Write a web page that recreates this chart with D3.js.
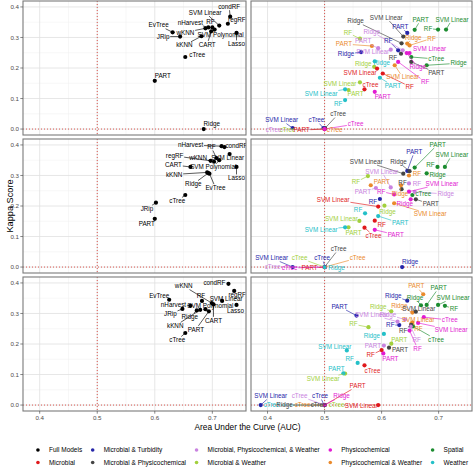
<!DOCTYPE html>
<html><head><meta charset="utf-8">
<script src="https://cdn.jsdelivr.net/npm/d3@7"></script>
<style>body{margin:0;background:#fff} text{font-family:"Liberation Sans",Arial,sans-serif}</style>
</head><body><svg id="c" width="474" height="467"></svg>
<script>
// ---------------- DATA ----------------
const groupKeys   = ["Full","Mic","MicTurb","MicPhys","MicPhysW","MicW","Phys","PhysW","Spat","W"];
const groupNames  = ["Full Models","Microbial","Microbial & Turbidity","Microbial & Physicochemical","Microbial, Physicochemical, & Weather","Microbial & Weather","Physicochemical","Physicochemical & Weather","Spatial","Weather"];
const groupColors = ["#000000","#e0191c","#2525a8","#444444","#c983e0","#a2d03c","#e21bd2","#ea8a2c","#1c8c30","#24c0c8"];
const xTicks = [0.4,0.5,0.6,0.7];
const xTickLabels = ["0.4","0.5","0.6","0.7"];
const yTicks = [0,0.1,0.2,0.3,0.4];
const yTickLabels = ["0.0","0.1","0.2","0.3","0.4"];
const xMinor = [0.45,0.55,0.65,0.75];
const yMinor = [0.05,0.15,0.25,0.35];

// full models: [model, AUC, Kappa]
const fullR1 = [
 ["condRF",0.731,0.368],["regRF",0.727,0.345],["Lasso",0.742,0.315],["SVM Linear",0.712,0.339],
 ["RF",0.700,0.333],["nHarvest",0.693,0.333],["wKNN",0.688,0.330],["SVM Polynomial",0.704,0.326],
 ["EvTree",0.631,0.317],["JRip",0.644,0.303],["kKNN",0.681,0.304],["CART",0.698,0.320],
 ["cTree",0.653,0.236],["PART",0.600,0.158],["Ridge",0.685,0.000]
];
const fullR2 = [
 ["nHarvest",0.716,0.396],["condRF",0.721,0.393],["RF",0.707,0.357],["SVM Linear",0.730,0.370],
 ["regRF",0.697,0.348],["wKNN",0.703,0.345],["SVM Polynomial",0.712,0.350],["CART",0.662,0.328],
 ["Lasso",0.742,0.328],["kKNN",0.691,0.310],["Ridge",0.693,0.308],["EvTree",0.695,0.306],
 ["cTree",0.653,0.236],["JRip",0.602,0.211],["PART",0.600,0.158]
];
const fullR3 = [
 ["condRF",0.728,0.397],["regRF",0.738,0.374],["SVM Linear",0.717,0.341],["wKNN",0.699,0.334],
 ["EvTree",0.625,0.345],["RF",0.682,0.341],["nHarvest",0.662,0.325],["SVM Polynomial",0.688,0.314],
 ["Lasso",0.742,0.328],["JRip",0.648,0.315],["Ridge",0.673,0.310],["CART",0.702,0.330],
 ["kKNN",0.679,0.312],["PART",0.694,0.307],["cTree",0.653,0.236]
];
// variable subsets: [group, model, AUC, Kappa]
const subR1 = [
 ["MicW","cTree",0.500,0.000],["PhysW","cTree",0.500,0.000],["MicPhysW","cTree",0.500,0.000],
 ["MicPhys","cTree",0.501,0.003],["MicTurb","SVM Linear",0.444,0.003],["MicTurb","cTree",0.498,0.003],
 ["Mic","PART",0.500,0.000],["Phys","cTree",0.500,0.000],
 ["Spat","PART",0.658,0.325],["Spat","SVM Linear",0.713,0.326],["Spat","RF",0.699,0.326],
 ["Spat","cTree",0.652,0.236],["Spat","Ridge",0.679,0.209],
 ["MicPhys","SVM Linear",0.638,0.303],["MicPhys","Ridge",0.635,0.281],["MicPhys","RF",0.634,0.247],["MicPhys","PART",0.652,0.220],
 ["MicTurb","PART",0.645,0.315],["MicTurb","RF",0.629,0.258],["MicTurb","Ridge",0.564,0.252],
 ["PhysW","Ridge",0.645,0.280],["PhysW","RF",0.649,0.274],["PhysW","PART",0.583,0.272],["PhysW","SVM Linear",0.623,0.209],
 ["MicW","RF",0.562,0.296],["MicW","Ridge",0.587,0.204],["MicW","SVM Linear",0.562,0.153],["MicW","PART",0.542,0.128],
 ["MicPhysW","Ridge",0.637,0.258],["MicPhysW","PART",0.594,0.265],["MicPhysW","SVM Linear",0.616,0.260],
 ["Phys","SVM Linear",0.649,0.249],["Phys","RF",0.629,0.220],["Phys","Ridge",0.644,0.249],["Phys","PART",0.588,0.122],
 ["W","Ridge",0.588,0.222],["W","PART",0.597,0.168],["W","SVM Linear",0.536,0.130],["W","RF",0.536,0.095],
 ["Mic","SVM Linear",0.592,0.198],["Mic","RF",0.602,0.182],["Mic","cTree",0.570,0.130]
];
const subR2 = [
 ["MicTurb","SVM Linear",0.444,0.000],["MicTurb","cTree",0.501,0.000],["MicPhys","cTree",0.500,0.000],
 ["PhysW","cTree",0.500,0.000],["MicW","cTree",0.500,0.000],["MicPhysW","cTree",0.500,0.000],
 ["Phys","cTree",0.500,0.000],["Mic","PART",0.500,0.000],["W","Ridge",0.500,0.000],
 ["Spat","PART",0.658,0.326],["Spat","SVM Linear",0.711,0.328],["Spat","RF",0.698,0.328],["Spat","Ridge",0.679,0.307],["Spat","cTree",0.654,0.236],
 ["MicTurb","PART",0.645,0.315],["MicTurb","RF",0.597,0.223],["MicTurb","Ridge",0.636,0.000],
 ["MicPhys","SVM Linear",0.638,0.306],["MicPhys","Ridge",0.649,0.314],["MicPhys","RF",0.635,0.255],["MicPhys","PART",0.660,0.222],
 ["PhysW","RF",0.648,0.300],["PhysW","PART",0.581,0.268],["PhysW","Ridge",0.634,0.268],["PhysW","SVM Linear",0.622,0.209],
 ["MicW","RF",0.576,0.298],["MicW","Ridge",0.605,0.201],["MicW","SVM Linear",0.561,0.151],["MicW","PART",0.542,0.130],
 ["MicPhysW","SVM Linear",0.616,0.261],["MicPhysW","PART",0.590,0.259],["MicPhysW","RF",0.648,0.274],["MicPhysW","Ridge",0.658,0.246],
 ["Phys","SVM Linear",0.648,0.247],["Phys","RF",0.622,0.238],["Phys","Ridge",0.651,0.222],["Phys","PART",0.588,0.122],
 ["W","RF",0.571,0.176],["W","PART",0.594,0.167],["W","SVM Linear",0.536,0.130],
 ["Mic","SVM Linear",0.594,0.198],["Mic","RF",0.588,0.152],["Mic","cTree",0.570,0.129]
];
const subR3 = [
 ["MicTurb","SVM Linear",0.388,0.000],["MicTurb","cTree",0.499,0.000],["MicPhysW","cTree",0.500,0.000],
 ["W","cTree",0.500,0.000],["MicPhys","Ridge",0.500,0.000],["PhysW","cTree",0.500,0.000],["MicPhys","cTree",0.500,0.000],
 ["MicW","cTree",0.500,0.000],["Mic","PART",0.500,0.000],["Phys","Ridge",0.500,0.000],
 ["Spat","PART",0.679,0.328],["Spat","Ridge",0.669,0.327],["Spat","SVM Linear",0.699,0.328],["Spat","RF",0.711,0.325],["Spat","cTree",0.655,0.258],
 ["PhysW","PART",0.673,0.363],["PhysW","Ridge",0.654,0.303],["PhysW","SVM Linear",0.652,0.266],["PhysW","RF",0.654,0.270],
 ["MicTurb","Ridge",0.645,0.342],["MicTurb","PART",0.556,0.293],["MicTurb","RF",0.631,0.262],
 ["MicPhys","SVM Linear",0.660,0.306],["MicPhys","RF",0.652,0.263],["MicPhys","PART",0.613,0.188],
 ["MicPhysW","SVM Linear",0.628,0.273],["MicPhysW","Ridge",0.641,0.280],["MicPhysW","RF",0.651,0.257],["MicPhysW","PART",0.604,0.195],
 ["Phys","cTree",0.674,0.288],["Phys","SVM Linear",0.664,0.269],["Phys","RF",0.649,0.244],["Phys","PART",0.603,0.169],
 ["MicW","Ridge",0.617,0.307],["MicW","RF",0.577,0.255],["MicW","PART",0.617,0.201],["MicW","SVM Linear",0.536,0.103],
 ["W","Ridge",0.604,0.233],["W","SVM Linear",0.539,0.179],["W","RF",0.558,0.138],["W","PART",0.533,0.104],
 ["Mic","RF",0.600,0.180],["Mic","cTree",0.570,0.130],["Mic","SVM Linear",0.594,0.000]
];

// ---------------- LABEL LAYOUT (pixel nudges of repelled labels, same order as data) ----------------
const fullR1Nudge = [[-1,-10],[9,-4],[0,11],[-14,-13],[-2,-6],[-18,-5],[-20,4],[6,5],[-14,-7],[-17,0],[-17,9],[-4,13],[12,-2],[8,-5],[8,-5]];
const fullR2Nudge = [[-31,-1],[12,-1],[-5,-11],[-2,4],[-36,-5],[-16,-4],[-6,7],[-17,-2],[0,11],[-33,2],[-15,11],[6,14],[-8,6],[-9,6],[-8,5]];
const fullR3Nudge = [[-14,-1],[3,4],[4,-2],[-28,-17],[-10,-4],[-1,-5],[-17,-1],[5,-3],[-1,6],[-12,5],[-7,6],[0,16],[-25,16],[-13,18],[-8,7]];
const subR1Nudge = [
 [-37,1],[10,1],[-51,1],[13,-14],[-11,-8],[-7,-8],[-23,1],[31,-5],
 [6,-10],[6,-10],[-10,-1],[25,2],[32,-2],
 [-17,-19],[-46,-22],[-8,4],[25,11],
 [-7,-6],[-10,-10],[-15,2],
 [6,-6],[22,-7],[-28,-2],[8,12],
 [-12,-6],[-11,-3],[-20,1],[7,4],
 [-31,-19],[-15,-7],[-18,2],
 [20,-4],[27,20],[11,14],[8,5],
 [7,2],[13,8],[-24,4],[-7,4],
 [-17,4],[27,13],[6,-5]
];
const subR2Nudge = [
 [-21,-9],[-3,-9],[14,-18],[33,-9],[-25,-9],[-52,0],[-35,1],[-15,1],[12,1],
 [23,-23],[7,-12],[-7,-2],[11,1],[11,-1],
 [7,-19],[-7,3],[8,-5],
 [-37,-12],[-11,-9],[1,-6],[15,5],
 [8,-2],[11,-3],[-1,9],[36,11],
 [-12,6],[3,6],[-18,-2],[5,5],
 [-9,-16],[-13,4],[8,0],[31,2],
 [33,-8],[-13,-3],[-6,5],[21,5],
 [-7,-4],[22,7],[-24,2],
 [-45,-7],[7,4],[9,8]
];
const subR3Nudge = [
 [10,-9],[-4,-9],[-25,-9],[-53,0],[-40,0],[-22,0],[-6,0],[12,0],[33,-19],[17,-9],
 [12,-17],[-6,-7],[15,-7],[9,3],[23,13],
 [-7,-8],[-13,-7],[7,-4],[6,6],
 [-14,-5],[-17,-9],[-9,0],
 [3,-3],[-8,6],[11,2],
 [-26,-7],[-17,-5],[6,13],[-11,0],
 [26,3],[33,7],[8,18],[7,5],
 [-13,-5],[-15,-3],[8,-4],[-22,5],
 [-12,2],[-12,-4],[-8,-4],[-7,-5],
 [-11,5],[8,5],[-17,1]
];

// ---------------- LAYOUT ----------------
const svg = d3.select("#c");
const defs = svg.append("defs");
const colRanges = [[23,246],[251,472]];
const rowRanges = [[1,135],[139,273],[277,411]];
const xDomain = [0.371,0.7585], yDomain = [-0.0195,0.4195];
const colorOf = k => groupColors[groupKeys.indexOf(k)];
const LABEL_FS = 6.3;

svg.append("rect").attr("width",474).attr("height",467).attr("fill","#fff");

const panels = [
 {row:0,col:0,data:fullR1.map(d=>["Full",...d]),nudge:fullR1Nudge},
 {row:1,col:0,data:fullR2.map(d=>["Full",...d]),nudge:fullR2Nudge},
 {row:2,col:0,data:fullR3.map(d=>["Full",...d]),nudge:fullR3Nudge},
 {row:0,col:1,data:subR1,nudge:subR1Nudge},
 {row:1,col:1,data:subR2,nudge:subR2Nudge},
 {row:2,col:1,data:subR3,nudge:subR3Nudge}
];

panels.forEach(p=>{
  const [x0,x1]=colRanges[p.col], [y0,y1]=rowRanges[p.row];
  const x=d3.scaleLinear().domain(xDomain).range([x0,x1]);
  const y=d3.scaleLinear().domain(yDomain).range([y1,y0]);
  const id="clip"+p.row+"_"+p.col;
  defs.append("clipPath").attr("id",id).append("rect")
    .attr("x",x0).attr("y",y0).attr("width",x1-x0).attr("height",y1-y0);
  const g=svg.append("g");
  const inner=g.append("g").attr("clip-path",`url(#${id})`);
  // grid
  inner.selectAll(".vmin").data(xMinor).join("line").attr("class","vmin")
    .attr("x1",d=>x(d)).attr("x2",d=>x(d)).attr("y1",y0).attr("y2",y1)
    .attr("stroke","#eeeeee").attr("stroke-width",0.5);
  inner.selectAll(".hmin").data(yMinor).join("line").attr("class","hmin")
    .attr("x1",x0).attr("x2",x1).attr("y1",d=>y(d)).attr("y2",d=>y(d))
    .attr("stroke","#eeeeee").attr("stroke-width",0.5);
  inner.selectAll(".vmaj").data(xTicks).join("line").attr("class","vmaj")
    .attr("x1",d=>x(d)).attr("x2",d=>x(d)).attr("y1",y0).attr("y2",y1)
    .attr("stroke","#e0e0e0").attr("stroke-width",0.8);
  inner.selectAll(".hmaj").data(yTicks).join("line").attr("class","hmaj")
    .attr("x1",x0).attr("x2",x1).attr("y1",d=>y(d)).attr("y2",d=>y(d))
    .attr("stroke","#e0e0e0").attr("stroke-width",0.8);
  // reference lines
  inner.append("line").attr("x1",x(0.5)).attr("x2",x(0.5)).attr("y1",y0).attr("y2",y1)
    .attr("stroke","#d9463e").attr("stroke-width",0.9).attr("stroke-dasharray","1,2");
  inner.append("line").attr("x1",x0).attr("x2",x1).attr("y1",y(0)).attr("y2",y(0))
    .attr("stroke","#d9463e").attr("stroke-width",0.9).attr("stroke-dasharray","1,2");

  const items=p.data.map((d,i)=>{
    const px=x(d[2]), py=y(d[3]);
    return {g:d[0],model:d[1],px,py,lx:px+p.nudge[i][0],ly:py+p.nudge[i][1],color:colorOf(d[0])};
  });
  inner.selectAll("circle.pt").data(items).join("circle").attr("class","pt")
    .attr("cx",d=>d.px).attr("cy",d=>d.py).attr("r",2.1).attr("fill",d=>d.color);
  const segG=inner.append("g"), txtG=inner.append("g");
  items.forEach(it=>{
    const t=txtG.append("text").attr("x",it.lx).attr("y",it.ly).attr("dy","0.35em")
      .attr("text-anchor","middle").attr("font-size",LABEL_FS).attr("fill",it.color).text(it.model);
    const w=t.node().getComputedTextLength(), h=LABEL_FS*0.85;
    const vx=it.px-it.lx, vy=it.py-it.ly;
    if (Math.abs(vx)<=w/2+1 && Math.abs(vy)<=h/2+1) return;
    const tx = vx===0?Infinity:(w/2+0.8)/Math.abs(vx);
    const ty = vy===0?Infinity:(h/2+0.8)/Math.abs(vy);
    const tt=Math.min(tx,ty);
    const sx=it.lx+vx*tt, sy=it.ly+vy*tt;
    const L=Math.hypot(it.px-sx,it.py-sy);
    if (L<3.5) return;
    const ex=it.px-(it.px-sx)/L*1.5, ey=it.py-(it.py-sy)/L*1.5;
    segG.append("line").attr("x1",sx).attr("y1",sy).attr("x2",ex).attr("y2",ey)
      .attr("stroke",it.color).attr("stroke-width",0.65);
  });
  // border
  g.append("rect").attr("x",x0).attr("y",y0).attr("width",x1-x0).attr("height",y1-y0)
    .attr("fill","none").attr("stroke","#7a7a7a").attr("stroke-width",1.1);
  // y axis on left column
  if (p.col===0){
    yTicks.forEach((v,i)=>{
      g.append("line").attr("x1",x0-2.7).attr("x2",x0).attr("y1",y(v)).attr("y2",y(v))
        .attr("stroke","#555").attr("stroke-width",0.7);
      g.append("text").attr("x",x0-4).attr("y",y(v)).attr("dy","0.35em").attr("text-anchor","end")
        .attr("font-size",6.2).attr("fill","#4d4d4d").text(yTickLabels[i]);
    });
  }
  if (p.row===2){
    xTicks.forEach((v,i)=>{
      g.append("line").attr("x1",x(v)).attr("x2",x(v)).attr("y1",y1).attr("y2",y1+2.7)
        .attr("stroke","#555").attr("stroke-width",0.7);
      g.append("text").attr("x",x(v)).attr("y",y1+6.5).attr("dy","0.35em").attr("text-anchor","middle")
        .attr("font-size",6.2).attr("fill","#4d4d4d").text(xTickLabels[i]);
    });
  }
});

// axis titles
svg.append("text").attr("x",247.5).attr("y",427).attr("dy","0.35em").attr("text-anchor","middle")
  .attr("font-size",8.3).attr("fill","#000").text("Area Under the Curve (AUC)");
svg.append("text").attr("transform","translate(10,206) rotate(-90)").attr("dy","0.35em")
  .attr("text-anchor","middle").attr("font-size",9.2).attr("fill","#000").text("Kappa Score");

// legend (2 rows, column-major)
const LEG_FS=6.5;
const leg=svg.append("g");
const nCols=Math.ceil(groupNames.length/2);
const tmp=leg.append("text").attr("font-size",LEG_FS);
const widths=groupNames.map(n=>{tmp.text(n);return tmp.node().getComputedTextLength();});
tmp.remove();
const colMax=d3.range(nCols).map(c=>Math.max(widths[2*c],widths[2*c+1]||0));
let dx=[0];
for(let c=1;c<nCols;c++) dx.push(dx[c-1]+11+colMax[c-1]+10.5);
const total=dx[nCols-1]+11+colMax[nCols-1]+3;
const startDot=251.5-total/2+3;
groupNames.forEach((n,i)=>{
  const c=Math.floor(i/2), r=i%2;
  const cx=startDot+dx[c], cy=r===0?450:462.5;
  leg.append("circle").attr("cx",cx).attr("cy",cy).attr("r",1.8).attr("fill",groupColors[i]);
  leg.append("text").attr("x",cx+11).attr("y",cy).attr("dy","0.35em").attr("font-size",LEG_FS)
    .attr("fill","#000").text(n);
});
</script></body></html>
